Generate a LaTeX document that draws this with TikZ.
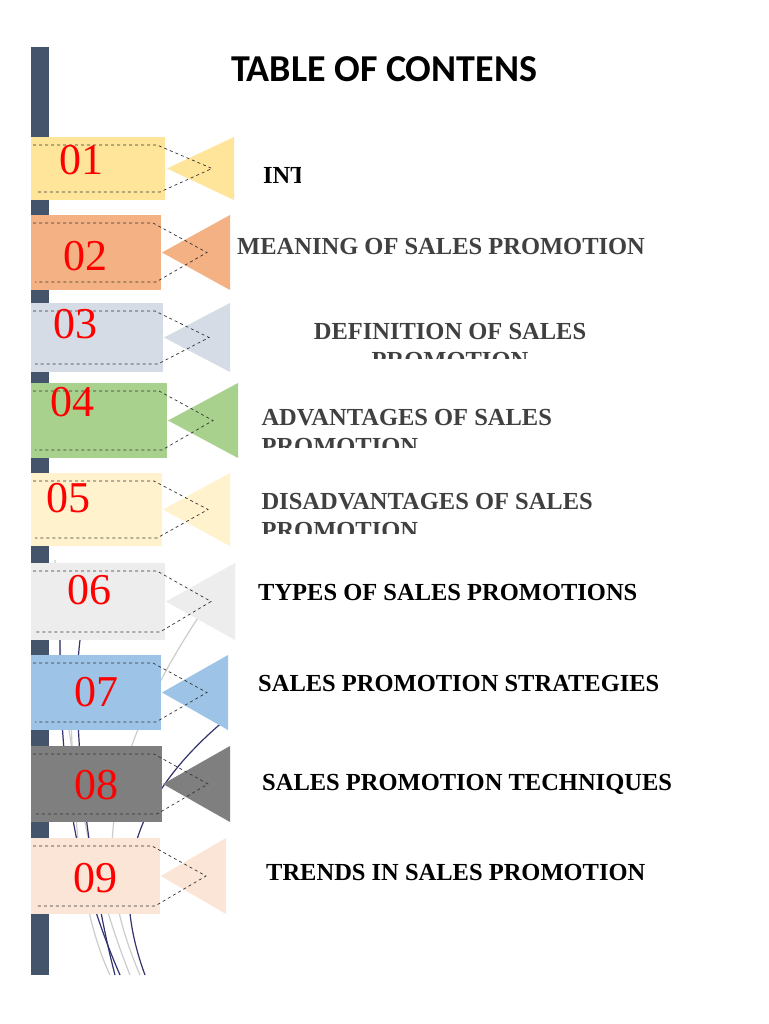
\documentclass[tikz,border=0pt]{standalone}
\usepackage{fontspec}
\setmainfont{Liberation Serif}
\newfontfamily\titlefont{Carlito}
\begin{document}
\begin{tikzpicture}[x=1pt,y=-1pt,
  numtxt/.style={text=red,font=\fontsize{44}{44}\selectfont,inner sep=0},
  lbl/.style={font=\bfseries\fontsize{24.5}{28}\selectfont,anchor=west,inner sep=0},
  dsh/.style={draw=black!80,dashed,line width=0.7pt},
  curveA/.style={draw=gray!40,line width=1.2pt},
  curveB/.style={draw=black!60!blue!60!gray,line width=1.2pt}]
\useasboundingbox[fill=white] (0,0) rectangle (768,1024);
\fill[color={rgb,255:red,68;green,84;blue,106}] (31,47) rectangle (49,975);
% decorative curves
\draw[curveA] (130,975) .. controls (80,850) and (60,700) .. (55,560);
\draw[curveA] (140,975) .. controls (95,870) and (90,760) .. (235,565);
\draw[curveB] (120,975) .. controls (70,860) and (60,760) .. (60,640);
\draw[curveB] (145,975) .. controls (110,880) and (130,800) .. (225,720);
\draw[curveB] (115,975) .. controls (90,880) and (70,720) .. (80,640);
\draw[curveA] (110,975) .. controls (75,900) and (75,800) .. (70,700);
\node[font=\titlefont\bfseries\fontsize{38}{42}\selectfont] (title) at (384,69) {TABLE OF CONTENS};
\foreach \n/\top/\bot/\rx/\tx/\tb/\col in {
 01/137/200/165/167/234/FFE599,
 02/215/290/161/162/230/F4B183,
 03/303/372/163/164/230/D6DCE5,
 04/383/458/167/168/238/A9D18E,
 05/473/546/162/163/230/FFF2CC,
 06/563/640/165/166/235/EDEDED,
 07/655/730/161/162/228/9DC3E6,
 08/746/822/162/163/230/7F7F7F,
 09/838/914/160/161/226/FBE5D6}{
  \definecolor{c}{HTML}{\col}
  \fill[c] (31,\top) rectangle (\rx,\bot);
  \pgfmathsetmacro{\mid}{(\top+\bot)/2}
  \fill[c] (\tx,\mid) -- (\tb,\top) -- (\tb,\bot) -- cycle;
  \draw[dsh] (33,\top+8) -- (\rx-8,\top+8) -- (\tx+45,\mid) -- (\rx-5,\bot-8) -- (35,\bot-8);
}
\node[numtxt] (n1) at (81,160) {01};
\node[numtxt] (n2) at (85,256) {02};
\node[numtxt] (n3) at (75,324) {03};
\node[numtxt] (n4) at (72,402) {04};
\node[numtxt] (n5) at (68,498) {05};
\node[numtxt] (n6) at (89,590) {06};
\node[numtxt] (n7) at (96,692) {07};
\node[numtxt] (n8) at (96,785) {08};
\node[numtxt] (n9) at (95,878) {09};
\begin{scope}
\clip (240,150) rectangle (300,200);
\node[lbl] (l1) at (263,176) {INTRODUCTION};
\end{scope}
\node[lbl,text=black!75] (l2) at (237,247) {MEANING OF SALES PROMOTION};
\begin{scope}
\clip (280,310) rectangle (660,358);
\node[font=\bfseries\fontsize{24.5}{29}\selectfont,align=center,text=black!75,anchor=north] (l3) at (450,320) {DEFINITION OF SALES\\PROMOTION};
\end{scope}
\begin{scope}
\clip (250,400) rectangle (660,447);
\node[font=\bfseries\fontsize{24.5}{29}\selectfont,align=left,text=black!75,anchor=north west] (l4) at (258,406) {ADVANTAGES OF SALES\\PROMOTION};
\end{scope}
\begin{scope}
\clip (250,485) rectangle (660,533);
\node[font=\bfseries\fontsize{24.5}{29}\selectfont,align=left,text=black!75,anchor=north west] (l5) at (258,490) {DISADVANTAGES OF SALES\\PROMOTION};
\end{scope}
\node[lbl] (l6) at (258,593) {TYPES OF SALES PROMOTIONS};
\node[lbl] (l7) at (258,684) {SALES PROMOTION STRATEGIES};
\node[lbl] (l8) at (262,784) {SALES PROMOTION TECHNIQUES};
\node[lbl] (l9) at (266,872) {TRENDS IN SALES PROMOTION};
\end{tikzpicture}
\end{document}
